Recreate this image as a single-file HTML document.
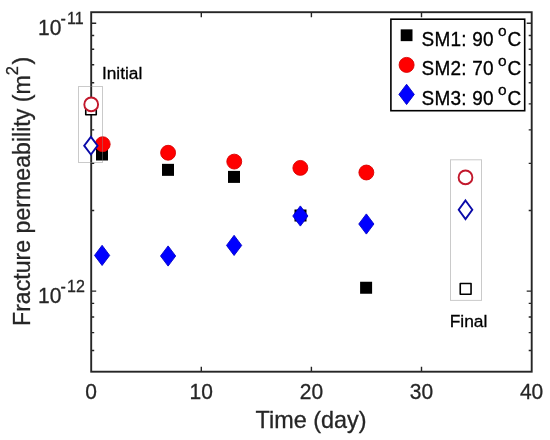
<!DOCTYPE html><html><head><meta charset="utf-8"><style>html,body{margin:0;padding:0;background:#fff;}svg{display:block;}text{font-family:"Liberation Sans",Arial,sans-serif;}</style></head><body>
<svg width="550" height="440" viewBox="0 0 550 440">
<rect width="550" height="440" fill="#fff"/>
<path d="M201.30 371.70V366.70M201.30 12.20V17.20M311.40 371.70V366.70M311.40 12.20V17.20M421.50 371.70V366.70M421.50 12.20V17.20M91.20 23.30H96.20M531.70 23.30H526.70M91.20 291.10H96.20M531.70 291.10H526.70M91.20 350.51H94.20M531.70 350.51H528.70M91.20 332.58H94.20M531.70 332.58H528.70M91.20 317.05H94.20M531.70 317.05H528.70M91.20 303.35H94.20M531.70 303.35H528.70M91.20 210.48H94.20M531.70 210.48H528.70M91.20 163.33H94.20M531.70 163.33H528.70M91.20 129.87H94.20M531.70 129.87H528.70M91.20 103.92H94.20M531.70 103.92H528.70M91.20 82.71H94.20M531.70 82.71H528.70M91.20 64.78H94.20M531.70 64.78H528.70M91.20 49.25H94.20M531.70 49.25H528.70M91.20 35.55H94.20M531.70 35.55H528.70" stroke="#262626" stroke-width="1.4" fill="none"/>
<rect x="91.2" y="12.2" width="440.50" height="359.50" fill="none" stroke="#262626" stroke-width="1.9"/>
<rect x="96.00" y="148.50" width="12.00" height="12.00" fill="#000"/>
<rect x="162.00" y="163.85" width="12.00" height="12.00" fill="#000"/>
<rect x="228.00" y="170.90" width="12.00" height="12.00" fill="#000"/>
<rect x="294.50" y="209.50" width="12.00" height="12.00" fill="#000"/>
<rect x="360.10" y="281.75" width="12.00" height="12.00" fill="#000"/>
<circle cx="102.70" cy="144.20" r="7.45" fill="#f00" stroke="#d80000" stroke-width="0.9"/>
<circle cx="168.10" cy="152.75" r="7.45" fill="#f00" stroke="#d80000" stroke-width="0.9"/>
<circle cx="234.25" cy="161.60" r="7.45" fill="#f00" stroke="#d80000" stroke-width="0.9"/>
<circle cx="300.35" cy="167.90" r="7.45" fill="#f00" stroke="#d80000" stroke-width="0.9"/>
<circle cx="366.35" cy="172.50" r="7.45" fill="#f00" stroke="#d80000" stroke-width="0.9"/>
<path d="M102.10 245.30L109.70 255.40L102.10 265.50L94.50 255.40Z" fill="#00f" stroke="#0000c8" stroke-width="0.9" stroke-linejoin="miter"/>
<path d="M168.10 245.90L175.70 256.00L168.10 266.10L160.50 256.00Z" fill="#00f" stroke="#0000c8" stroke-width="0.9" stroke-linejoin="miter"/>
<path d="M234.10 235.30L241.70 245.40L234.10 255.50L226.50 245.40Z" fill="#00f" stroke="#0000c8" stroke-width="0.9" stroke-linejoin="miter"/>
<path d="M300.35 205.90L307.95 216.00L300.35 226.10L292.75 216.00Z" fill="#00f" stroke="#0000c8" stroke-width="0.9" stroke-linejoin="miter"/>
<path d="M366.35 213.90L373.95 224.00L366.35 234.10L358.75 224.00Z" fill="#00f" stroke="#0000c8" stroke-width="0.9" stroke-linejoin="miter"/>
<rect x="85.75" y="104.25" width="10.50" height="10.50" fill="#fff" stroke="#000" stroke-width="1.6" stroke-linejoin="round"/>
<circle cx="91.20" cy="104.40" r="6.90" fill="#fff" stroke="#c2182c" stroke-width="1.9"/>
<path d="M90.90 136.90L97.60 145.70L90.90 154.50L84.20 145.70Z" fill="#fff" stroke="#0a0aa8" stroke-width="1.9" stroke-linejoin="miter"/>
<circle cx="465.50" cy="177.40" r="6.90" fill="#fff" stroke="#c2182c" stroke-width="1.9"/>
<path d="M465.50 200.45L472.30 209.75L465.50 219.05L458.70 209.75Z" fill="#fff" stroke="#0a0aa8" stroke-width="1.9" stroke-linejoin="miter"/>
<rect x="460.25" y="283.50" width="10.80" height="10.80" fill="#fff" stroke="#000" stroke-width="1.6" stroke-linejoin="round"/>
<rect x="78.5" y="86.5" width="24" height="76" fill="none" stroke="#8a8a8a" stroke-opacity="0.45" stroke-width="1"/>
<rect x="450.5" y="159.8" width="31" height="140.6" fill="none" stroke="#8a8a8a" stroke-opacity="0.45" stroke-width="1"/>
<text x="101.9" y="79.1" font-size="17.3" fill="#000" stroke="#000" stroke-width="0.3">Initial</text>
<text x="449.7" y="326.5" font-size="17.4" fill="#000" stroke="#000" stroke-width="0.3">Final</text>
<rect x="390.9" y="19.2" width="133.8" height="91.5" fill="#fff" stroke="#000" stroke-width="1.6"/>
<rect x="400.70" y="29.35" width="11.80" height="11.80" fill="#000"/>
<circle cx="406.60" cy="64.90" r="7.50" fill="#f00" stroke="#d80000" stroke-width="0.9"/>
<path d="M406.60 84.25L414.30 94.40L406.60 104.55L398.90 94.40Z" fill="#00f" stroke="#0000c8" stroke-width="0.9" stroke-linejoin="miter"/>
<text transform="translate(421.6 45.8) scale(1 1.08)" font-size="19" letter-spacing="0.2" fill="#000" stroke="#000" stroke-width="0.3">SM1: 90</text>
<text x="498.1" y="36.40" font-size="15.5" fill="#000" stroke="#000" stroke-width="0.3">o</text>
<text transform="translate(507.6 45.8) scale(1 1.08)" font-size="19" fill="#000" stroke="#000" stroke-width="0.3">C</text>
<text transform="translate(421.6 75.3) scale(1 1.08)" font-size="19" letter-spacing="0.2" fill="#000" stroke="#000" stroke-width="0.3">SM2: 70</text>
<text x="498.1" y="65.90" font-size="15.5" fill="#000" stroke="#000" stroke-width="0.3">o</text>
<text transform="translate(507.6 75.3) scale(1 1.08)" font-size="19" fill="#000" stroke="#000" stroke-width="0.3">C</text>
<text transform="translate(421.6 104.7) scale(1 1.08)" font-size="19" letter-spacing="0.2" fill="#000" stroke="#000" stroke-width="0.3">SM3: 90</text>
<text x="498.1" y="95.30" font-size="15.5" fill="#000" stroke="#000" stroke-width="0.3">o</text>
<text transform="translate(507.6 104.7) scale(1 1.08)" font-size="19" fill="#000" stroke="#000" stroke-width="0.3">C</text>
<text transform="translate(91.20 399.1) scale(1 1.08)" font-size="21" fill="#262626" text-anchor="middle" stroke="#262626" stroke-width="0.3">0</text>
<text transform="translate(201.30 399.1) scale(1 1.08)" font-size="21" fill="#262626" text-anchor="middle" stroke="#262626" stroke-width="0.3">10</text>
<text transform="translate(311.40 399.1) scale(1 1.08)" font-size="21" fill="#262626" text-anchor="middle" stroke="#262626" stroke-width="0.3">20</text>
<text transform="translate(421.50 399.1) scale(1 1.08)" font-size="21" fill="#262626" text-anchor="middle" stroke="#262626" stroke-width="0.3">30</text>
<text transform="translate(531.60 399.1) scale(1 1.08)" font-size="21" fill="#262626" text-anchor="middle" stroke="#262626" stroke-width="0.3">40</text>
<text transform="translate(38 34.70) scale(1 1.08)" font-size="21" fill="#262626" stroke="#262626" stroke-width="0.3">10</text>
<text x="60.6" y="24.20" font-size="16" fill="#262626" stroke="#262626" stroke-width="0.3">-<tspan dx="1.1">11</tspan></text>
<text transform="translate(38 302.50) scale(1 1.08)" font-size="21" fill="#262626" stroke="#262626" stroke-width="0.3">10</text>
<text x="60.6" y="292.00" font-size="16" fill="#262626" stroke="#262626" stroke-width="0.3">-<tspan dx="1.1">12</tspan></text>
<text x="311" y="427.6" font-size="23.4" fill="#262626" text-anchor="middle" stroke="#262626" stroke-width="0.3">Time (day)</text>
<text transform="translate(29.9 326.0) rotate(-90)" x="0" y="0" font-size="23.15" fill="#262626" stroke="#262626" stroke-width="0.3">Fracture permeability (m<tspan font-size="16.5" dy="-12.3">2</tspan><tspan dx="1.6" dy="12.3">)</tspan></text>
</svg></body></html>
